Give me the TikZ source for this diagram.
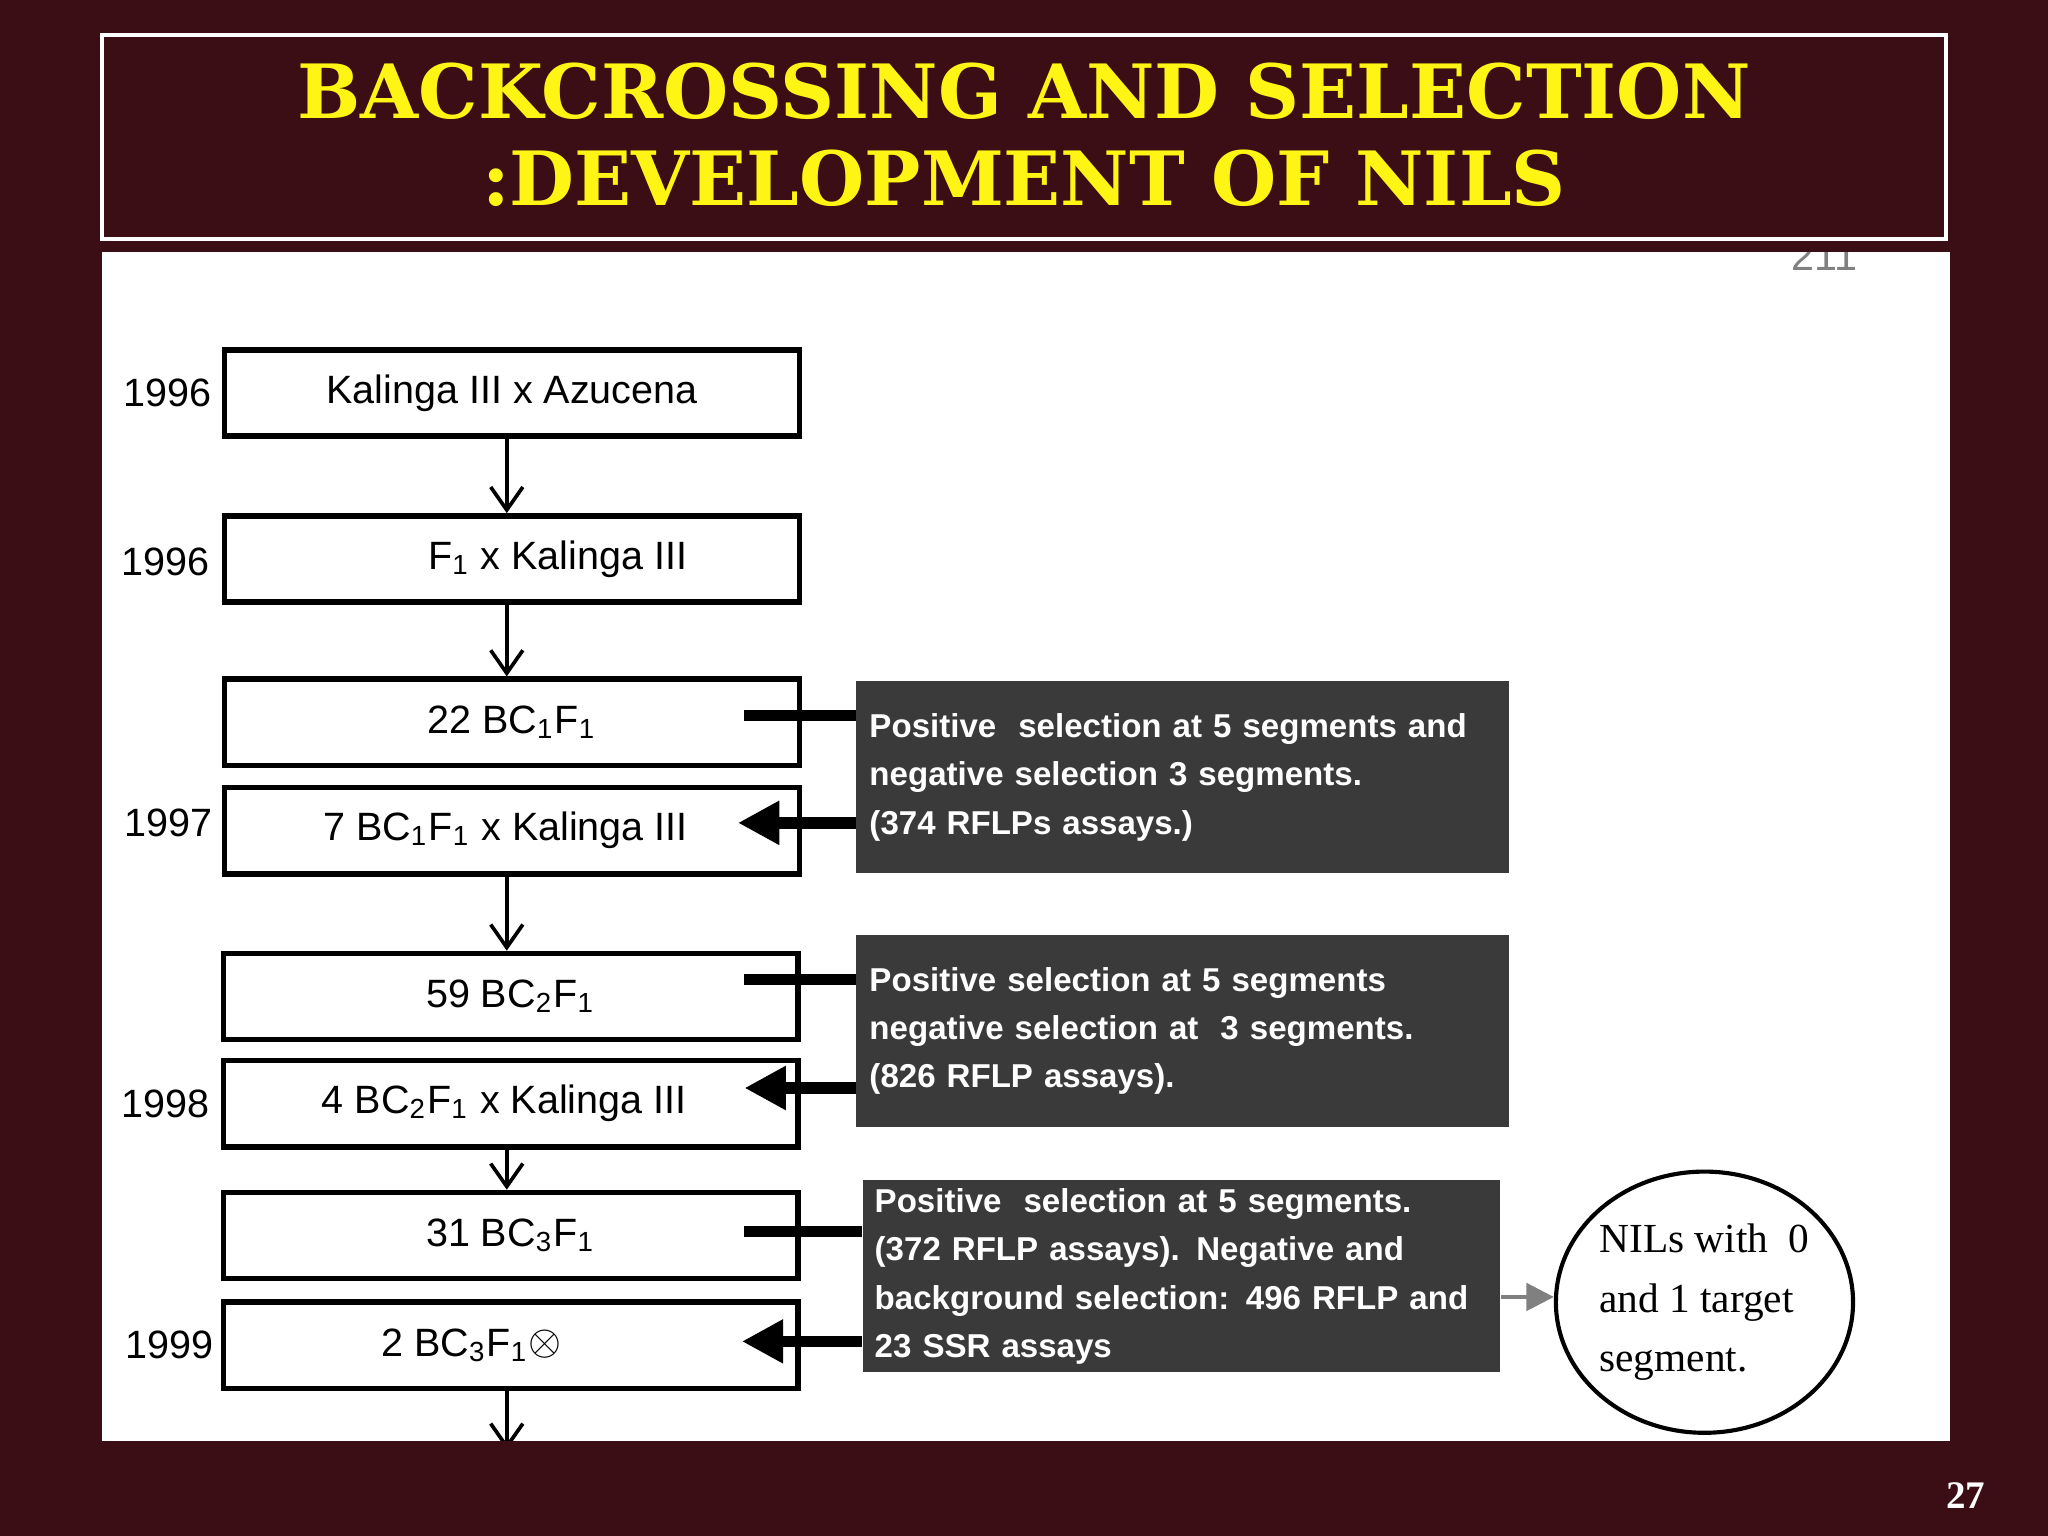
\documentclass[tikz,border=0pt]{standalone}
\usepackage{fontspec}
\setmainfont{Liberation Sans}
\newfontfamily\titlefont{DejaVu Serif}
\newfontfamily\serifb{Liberation Serif}
\usetikzlibrary{arrows.meta,shapes.geometric}
\definecolor{bgred}{RGB}{58,14,20}
\definecolor{titley}{RGB}{255,245,20}
\definecolor{darkbox}{RGB}{58,58,58}
\newlength{\pxu}\setlength{\pxu}{0.01cm}
\newcommand{\sbs}[1]{\textsubscript{#1}}
\tikzset{
 flow/.style={draw,line width=1.2pt,minimum width=440\pxu,minimum height=66\pxu,inner sep=0pt,font=\fontsize{8.6}{11}\selectfont},
 yr/.style={font=\fontsize{8.6}{11}\selectfont},
 sel/.style={fill=darkbox,text=white,align=left,text width=480\pxu,minimum width=500\pxu,inner sep=5\pxu,anchor=north west,font=\bfseries\fontsize{7.2}{10.5}\selectfont},
 dn/.style={-{Straight Barb[length=5pt,width=7pt]},line width=0.8pt},
 lft/.style={-{Triangle[length=9pt,width=9pt]},line width=2.5pt},
 bar/.style={line width=2.5pt}
}
\begin{document}
\begin{tikzpicture}[x=0.01cm,y=-0.01cm]
\fill[bgred] (0,0) rectangle (1568,1176);
\useasboundingbox (0,0) rectangle (1568,1176);
\draw[white,line width=0.8pt] (78,27) rectangle (1490,183);
\node[text=titley,font=\titlefont\bfseries\fontsize{16.3}{19}\selectfont,align=center] (title) at (784,103) {BACKCROSSING AND SELECTION\\:DEVELOPMENT OF NILS};
\fill[white] (78,193) rectangle (1493,1103);
\begin{scope}
\clip (78,193) rectangle (1493,1103);
\node[text=gray,font=\fontsize{9}{10}\selectfont] (pg) at (1397,196) {211};
\node[flow] (b1) at (392,301) {Kalinga III x Azucena};
\node[flow] (b2) at (392,428) {\hspace{70\pxu}F\sbs{1} x Kalinga III};
\node[flow] (b3) at (392,553) {22 BC\sbs{1}F\sbs{1}};
\node[flow] (b4) at (392,636) {\hspace{-10\pxu}7 BC\sbs{1}F\sbs{1} x Kalinga III};
\node[flow] (b5) at (391,763) {59 BC\sbs{2}F\sbs{1}};
\node[flow] (b6) at (391,845) {\hspace{-10\pxu}4 BC\sbs{2}F\sbs{1} x Kalinga III};
\node[flow] (b7) at (391,946) {31 BC\sbs{3}F\sbs{1}};
\node[flow] (b8) at (391,1030) {\hspace{-60\pxu}2 BC\sbs{3}F\sbs{1}\raisebox{0.5pt}{$\otimes$}};
\coordinate (bend) at (388,1110);
\node[yr] (y1) at (128,301) {1996};
\node[yr] (y2) at (127,430) {1996};
\node[yr] (y3) at (129,630) {1997};
\node[yr] (y4) at (127,845) {1998};
\node[yr] (y5) at (130,1030) {1999};
\draw[dn] (b1.south-|388,0) -- (b2.north-|388,0);
\draw[dn] (b2.south-|388,0) -- (b3.north-|388,0);
\draw[dn] (b4.south-|388,0) -- (b5.north-|388,0);
\draw[dn] (b6.south-|388,0) -- (b7.north-|388,0);
\draw[dn] (b8.south-|388,0) -- (bend);
\node[sel,minimum height=147\pxu] (s1) at (655,521) {Positive\ \ selection at 5 segments and\\negative selection 3 segments.\\(374 RFLPs assays.)};
\node[sel,minimum height=147\pxu] (s2) at (655,715) {Positive selection at 5 segments\\negative selection at\ \ 3 segments.\\(826 RFLP assays).};
\node[sel,minimum height=147\pxu,minimum width=488\pxu,text width=470\pxu] (s3) at (660,903) {Positive\ \ selection at 5 segments.\\(372 RFLP assays). Negative and\\background selection: 496 RFLP and\\23 SSR assays};
\draw[bar] (570,548) -- (s1.west|-0,548);
\draw[lft] (s1.west|-0,630) -- (565,630);
\draw[bar] (570,750) -- (s2.west|-0,750);
\draw[lft] (s2.west|-0,833) -- (570,833);
\draw[bar] (570,943) -- (s3.west|-0,943);
\draw[lft] (s3.west|-0,1027) -- (568,1027);
\node[draw,ellipse,minimum width=210\pxu,minimum height=200\pxu,line width=0.9pt,align=left,font=\serifb\fontsize{9}{13}\selectfont,inner sep=0pt] (nil) at (1305,997) {NILs with\ \ 0\\and 1 target\\segment.};
\draw[-{Triangle[length=6pt,width=6pt]},gray,line width=0.8pt] (s3.east|-0,993) -- (nil.west|-0,993);
\end{scope}
\node[white,font=\serifb\bfseries\fontsize{8.5}{10}\selectfont] (num) at (1505,1145) {27};
\end{tikzpicture}
\end{document}
